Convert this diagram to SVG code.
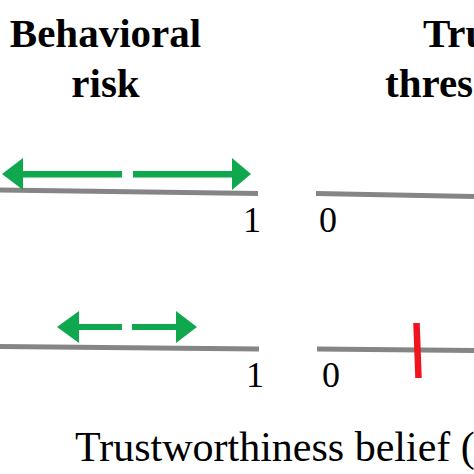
<svg xmlns="http://www.w3.org/2000/svg" width="474" height="474" viewBox="0 0 474 474">
<style>
.h{font-family:"Liberation Serif","Times New Roman",serif;font-weight:bold;font-size:41px;fill:#000}
.n{font-family:"Liberation Serif","Times New Roman",serif;font-size:36px;fill:#000}
.ax{font-family:"Liberation Serif","Times New Roman",serif;font-size:42px;fill:#000}
.axis{stroke:#858585;stroke-width:5;fill:none}
.g{fill:#10a84f}
.tick{stroke:#f0141e;stroke-width:6.5}
</style>
<rect width="474" height="474" fill="#fff"/>
<g id="title-behavioral">
<text class="h" x="105.5" y="47" text-anchor="middle">Behavioral</text>
<text class="h" x="105.5" y="97" text-anchor="middle">risk</text>
</g>
<g id="title-trust">
<text class="h" x="423" y="47">Tru</text>
<text class="h" x="385" y="97">thres</text>
</g>
<g id="row1">
<line class="axis" x1="0" y1="190" x2="258" y2="193.5"/>
<line class="axis" x1="316" y1="193.5" x2="474" y2="196.5"/>
<text class="n" x="243" y="232">1</text>
<text class="n" x="319" y="232">0</text>
<g id="arrows1" class="g">
<polygon points="2,174 23,158 23,171 122,171 122,177.5 23,177.5 23,190"/>
<polygon points="251,174 232,158 232,171 133,171 133,177.5 232,177.5 232,190"/>
</g>
</g>
<g id="row2">
<line class="axis" x1="0" y1="346.5" x2="259" y2="349"/>
<line class="axis" x1="317" y1="349" x2="474" y2="350.5"/>
<text class="n" x="246" y="387">1</text>
<text class="n" x="322" y="387">0</text>
<g id="arrows2" class="g">
<polygon points="57,327 79,311 79,324 122,324 122,330 79,330 79,343"/>
<polygon points="197,327 176,311 176,324 132,324 132,330 176,330 176,343"/>
</g>
<line id="threshold" class="tick" x1="416.5" y1="323" x2="418.5" y2="378"/>
</g>
<g id="xlabel">
<text class="ax" x="75" y="461">Trustworthiness belief (<tspan font-style="italic">μ</tspan></text>
</g>
</svg>
